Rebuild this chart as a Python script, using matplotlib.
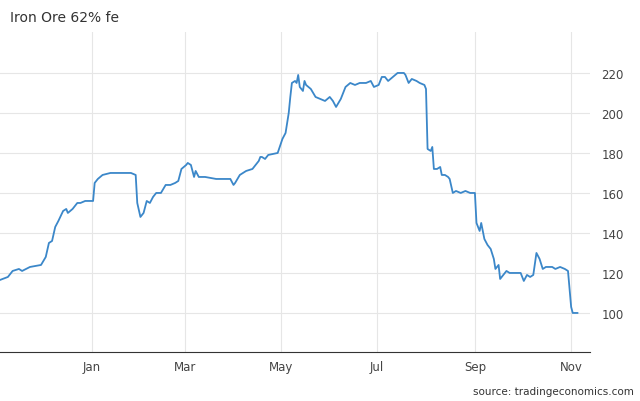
import numpy as np
import pandas as pd
import matplotlib
matplotlib.use("Agg")
import matplotlib.pyplot as plt
import matplotlib.dates as mdates

# days offset from 2021-01-01 and price (USD/T)
days = [-58, -53, -50, -46, -44, -39, -32, -29, -27, -25, -23, -21, -18, -16, -15, -12, -9, -7, -4,
        1, 2, 4, 7, 12, 18, 25, 28, 29, 31, 33, 35, 37, 39, 41, 44, 47, 50, 53, 55, 57, 60, 61, 63,
        65, 66, 68, 72, 79, 85, 88, 90, 91, 94, 98, 102, 104, 106, 107, 108, 110, 112, 118, 121,
        123, 125, 126, 127, 129, 130, 131, 132, 134, 135, 136, 139, 142, 145, 148, 151, 153, 155,
        158, 161, 164, 167, 170, 174, 177, 179, 182, 184, 186, 188, 191, 194, 198, 199, 201, 203,
        206, 208, 211, 212, 213, 215, 216, 217, 219, 221, 222, 224, 226, 227, 229, 231, 234, 237,
        240, 243, 244, 246, 247, 249, 251, 253, 255, 256, 258, 259, 261, 263, 265, 269, 272, 274,
        276, 278, 280, 282, 284, 286, 288, 292, 294, 297, 300, 302, 304, 305, 308]
prices = [116.5, 118, 121, 122, 121, 123, 124, 128, 135, 136, 143, 146, 151, 152, 150, 152, 155, 155, 156,
          156, 165, 167, 169, 170, 170, 170, 169, 155, 148, 150, 156, 155, 158, 160, 160, 164, 164, 165, 166,
          172, 174, 175, 174, 168, 171, 168, 168, 167, 167, 167, 164, 165, 169, 171, 172, 174, 176, 178,
          178, 177, 179, 180, 187, 190, 200, 208, 215, 216, 215, 219, 213, 211, 216, 214, 212, 208, 207,
          206, 208, 206, 203, 207, 213, 215, 214, 215, 215, 216, 213, 214, 218, 218, 216, 218, 220, 220,
          219, 215, 217, 216, 215, 214, 212, 182, 181, 183, 172, 172, 173, 169, 169, 168, 167, 160, 161,
          160, 161, 160, 160, 145, 141, 145, 137, 134, 132, 127, 122, 124, 117, 119, 121, 120, 120, 120,
          116, 119, 118, 119, 130, 127, 122, 123, 123, 122, 123, 122, 121, 103, 100, 100]

dates = pd.Timestamp("2021-01-01") + pd.to_timedelta(days, unit="D")

fig = plt.figure(figsize=(6.4, 4.02), dpi=100)
ax = fig.add_axes([0.0, 0.122, 0.922, 0.796])
ax.plot(dates, prices, color="#3b87c9", lw=1.3)

ax.set_ylim(80.5, 240.5)
ax.set_xlim(pd.Timestamp("2020-11-04"), pd.Timestamp("2021-11-13"))
ax.set_yticks([100, 120, 140, 160, 180, 200, 220])
ax.yaxis.tick_right()
ax.xaxis.set_major_locator(mdates.MonthLocator(bymonth=[1, 3, 5, 7, 9, 11]))
ax.xaxis.set_major_formatter(mdates.DateFormatter("%b"))
ax.tick_params(axis="both", length=0, labelsize=8.5, colors="#444444", pad=6)
ax.tick_params(axis="y", pad=8)
ax.grid(True, color="#e6e6e6", lw=0.8)
for s in ["top", "left", "right"]:
    ax.spines[s].set_visible(False)
ax.spines["bottom"].set_color("#333333")

fig.text(0.016, 0.955, "Iron Ore 62% fe", fontsize=10, color="#333333", va="center")
fig.text(0.99, 0.018, "source: tradingeconomics.com", fontsize=7.5, color="#333333", ha="right")

fig.savefig("out.png")
